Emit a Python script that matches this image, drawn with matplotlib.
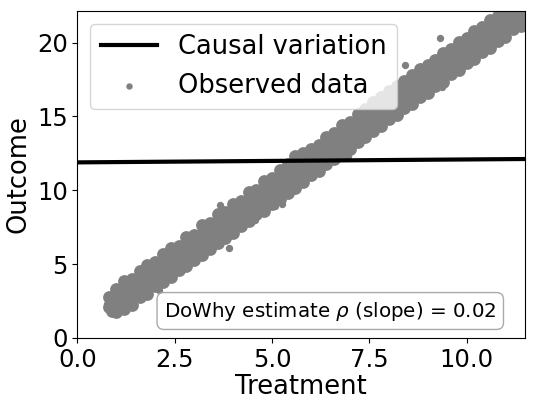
import matplotlib
matplotlib.use("Agg")
import matplotlib.pyplot as plt

# ---- data ----
# dense band of observed points, listed as rows along the band
row_even_x = [0.8, 1.0, 1.2, 1.4, 1.6, 1.8, 2.0, 2.2, 2.4, 2.6, 2.8, 3.0, 3.2, 3.4,
              3.6, 3.8, 4.0, 4.2, 4.4, 4.6, 4.8, 5.0, 5.2, 5.4, 5.6, 5.8, 6.0, 6.2,
              6.4, 6.6, 6.8, 7.0, 7.2, 7.4, 7.6, 7.8, 8.0, 8.2, 8.4, 8.6, 8.8, 9.0,
              9.2, 9.4, 9.6, 9.8, 10.0, 10.2, 10.4, 10.6, 10.8, 11.0, 11.2, 11.4]
row_center_y = [2.10, 2.40, 2.88, 3.15, 3.62, 3.90, 4.40, 4.66, 5.12, 5.40, 5.90, 6.18,
                6.63, 6.92, 7.40, 7.70, 8.15, 8.44, 8.90, 9.20, 9.68, 9.96, 10.42, 10.70,
                11.18, 11.48, 11.93, 12.22, 12.70, 12.98, 13.45, 13.74, 14.20, 14.50,
                14.96, 15.25, 15.72, 16.01, 16.47, 16.76, 17.22, 17.52, 17.98, 18.28,
                18.74, 19.03, 19.50, 19.79, 20.25, 20.54, 21.00, 21.30, 21.76, 22.06]
row_top_x = row_even_x[:52]
row_top_y = [2.75, 3.30, 3.85, 3.98, 4.55, 4.95, 5.12, 5.70, 6.12, 6.25, 6.80, 7.00,
             7.62, 7.80, 8.38, 8.55, 9.10, 9.30, 9.88, 10.05, 10.60, 10.82, 11.40, 11.75,
             12.30, 12.55, 12.80, 13.10, 13.60, 13.85, 14.40, 14.62, 15.20, 15.50,
             15.95, 16.30, 16.75, 17.05, 17.40, 17.80, 18.20, 18.50, 18.80, 19.30,
             19.55, 20.05, 20.30, 20.80, 21.05, 21.55, 21.80, 22.20]
row_bottom_x = row_even_x[1:]
row_bottom_y = [1.75, 1.95, 2.25, 2.75, 3.00, 3.50, 3.75, 4.10, 4.62, 4.85, 5.25, 5.62,
                6.00, 6.40, 6.78, 7.12, 7.55, 7.90, 8.40, 8.62, 9.05, 9.40, 9.80, 10.15,
                10.55, 11.05, 11.30, 11.80, 12.10, 12.45, 12.82, 13.30, 13.58, 14.05,
                14.35, 14.80, 15.10, 15.58, 15.85, 16.35, 16.60, 17.10, 17.35, 17.85,
                18.12, 18.60, 18.88, 19.38, 19.62, 20.12, 20.40, 20.90, 21.15]
row_odd_x = [0.9, 1.1, 1.3, 1.5, 1.7, 1.9, 2.1, 2.3, 2.5, 2.7, 2.9, 3.1, 3.3, 3.5,
             3.7, 3.9, 4.1, 4.3, 4.5, 4.7, 4.9, 5.1, 5.3, 5.5, 5.7, 5.9, 6.1, 6.3,
             6.5, 6.7, 6.9, 7.1, 7.3, 7.5, 7.7, 7.9, 8.1, 8.3, 8.5, 8.7, 8.9, 9.1,
             9.3, 9.5, 9.7, 9.9, 10.1, 10.3, 10.5, 10.7, 10.9, 11.1, 11.3, 11.5]
row_upper_x = row_odd_x[:52]
row_upper_y = [2.65, 3.12, 3.42, 3.88, 4.18, 4.63, 4.93, 5.38, 5.70, 6.14, 6.45, 6.90,
               7.20, 7.65, 7.96, 8.40, 8.72, 9.16, 9.48, 9.92, 10.23, 10.68, 10.99, 11.44,
               11.74, 12.18, 12.50, 12.94, 13.26, 13.70, 14.01, 14.46, 14.77, 15.22,
               15.52, 15.97, 16.28, 16.72, 17.04, 17.48, 17.79, 18.24, 18.55, 18.99,
               19.30, 19.75, 20.06, 20.50, 20.82, 21.26, 21.57, 22.01]
row_lower_x = row_odd_x
row_lower_y = [1.85, 2.14, 2.60, 2.90, 3.35, 3.66, 4.10, 4.41, 4.86, 5.17, 5.62, 5.92,
               6.37, 6.68, 7.13, 7.44, 7.88, 8.19, 8.64, 8.95, 9.40, 9.70, 10.15, 10.46,
               10.91, 11.21, 11.66, 11.97, 12.42, 12.73, 13.17, 13.48, 13.93, 14.24,
               14.69, 14.99, 15.44, 15.75, 16.20, 16.51, 16.95, 17.26, 17.71, 18.02,
               18.46, 18.77, 19.22, 19.53, 19.98, 20.28, 20.73, 21.04, 21.49, 21.80]
# isolated points sticking out of the band
outlier_x = [8.42, 9.32, 9.36, 5.08, 4.56, 3.66, 3.90, 2.10, 5.25, 0.75, 6.95, 10.6]
outlier_y = [18.49, 20.30, 17.00, 8.95, 7.98, 9.00, 6.10, 3.25, 9.05, 2.30, 12.35, 19.55]

treatment = (row_even_x + row_top_x + row_bottom_x + row_upper_x + row_lower_x)
outcome = (row_center_y + row_top_y + row_bottom_y + row_upper_y + row_lower_y)

# causal line (DoWhy estimate, slope 0.02)
causal_x = [0.0, 11.6]
causal_y = [11.89, 12.12]

x_ticks = [0.0, 2.5, 5.0, 7.5, 10.0]
y_ticks = [0, 5, 10, 15, 20]
x_limits = (0, 11.5)
y_limits = (0, 22.15)

# ---- figure ----
fig = plt.figure(figsize=(5.34, 4.07), dpi=100)
ax = fig.add_axes([0.145, 0.170, 0.838, 0.803])

ax.scatter(treatment, outcome, s=85, color="#808080", linewidths=0,
           label="Observed data")
ax.scatter(outlier_x, outlier_y, s=28, color="#808080", linewidths=0)
ax.plot(causal_x, causal_y, color="black", lw=3, label="Causal variation")

ax.set_xlim(*x_limits)
ax.set_ylim(*y_limits)
ax.set_xticks(x_ticks)
ax.set_yticks(y_ticks)
ax.tick_params(labelsize=17.5)
ax.set_xlabel("Treatment", fontsize=18.5, labelpad=2)
ax.set_ylabel("Outcome", fontsize=18.5, labelpad=4)

handles, labels = ax.get_legend_handles_labels()
ax.legend(handles[::-1], labels[::-1], loc="upper left", fontsize=18.5,
          markerscale=0.5, handlelength=2.2, labelspacing=0.5)

ax.text(0.565, 0.082, r"DoWhy estimate $\rho$ (slope) = 0.02",
        transform=ax.transAxes, ha="center", va="center", fontsize=14.3,
        bbox=dict(boxstyle="round,pad=0.35", facecolor="white",
                  edgecolor="#aaaaaa"))

fig.savefig("out.png", dpi=100)
